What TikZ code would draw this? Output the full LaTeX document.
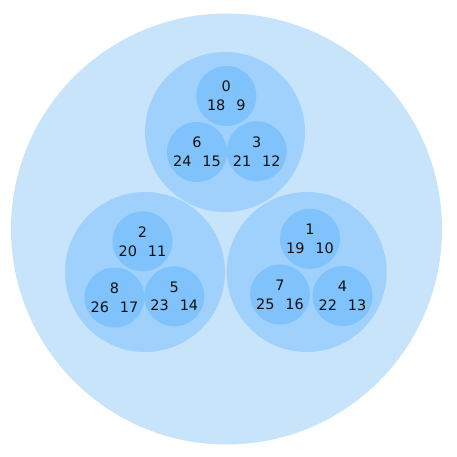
\documentclass[tikz,border=0pt]{standalone}
\usepackage{fontspec}
\setmainfont{DejaVu Sans}
\definecolor{bigc}{HTML}{C7E4FB}
\definecolor{midc}{HTML}{9FD1FC}
\definecolor{smallc}{HTML}{80C2FB}
\definecolor{txt}{HTML}{111111}
\begin{document}
\begin{tikzpicture}[x=1bp,y=-1bp,
  outer/.style={circle,fill=bigc,inner sep=0pt,minimum size=431bp},
  middle/.style={circle,fill=midc,inner sep=0pt,minimum size=160bp},
  inner/.style={circle,fill=smallc,inner sep=0pt,minimum size=60bp,align=center,
    font=\fontsize{14.5}{19}\selectfont,text=txt}]
\useasboundingbox (0,0) rectangle (457,457);
\newcommand{\pair}[2]{#1\hspace{11bp}#2}
\node[outer] (big) at (226.5,229) {};
\node[middle] (mt) at (225,132) {};
\node[middle] (ml) at (145,272) {};
\node[middle] (mr) at (306.7,272) {};
\node[inner] (c0) at (226.3,96) {0\\\pair{18}{9}};
\node[inner] (c6) at (197,152) {6\\\pair{24}{15}};
\node[inner] (c3) at (256.7,151.3) {3\\\pair{21}{12}};
\node[inner] (c2) at (142.5,241.3) {2\\\pair{20}{11}};
\node[inner] (c8) at (114.5,297.5) {8\\\pair{26}{17}};
\node[inner] (c5) at (174.3,296.3) {5\\\pair{23}{14}};
\node[inner] (c1) at (310,238.8) {1\\\pair{19}{10}};
\node[inner] (c7) at (280,294.5) {7\\\pair{25}{16}};
\node[inner] (c4) at (342.5,296) {4\\\pair{22}{13}};
\end{tikzpicture}
\end{document}
